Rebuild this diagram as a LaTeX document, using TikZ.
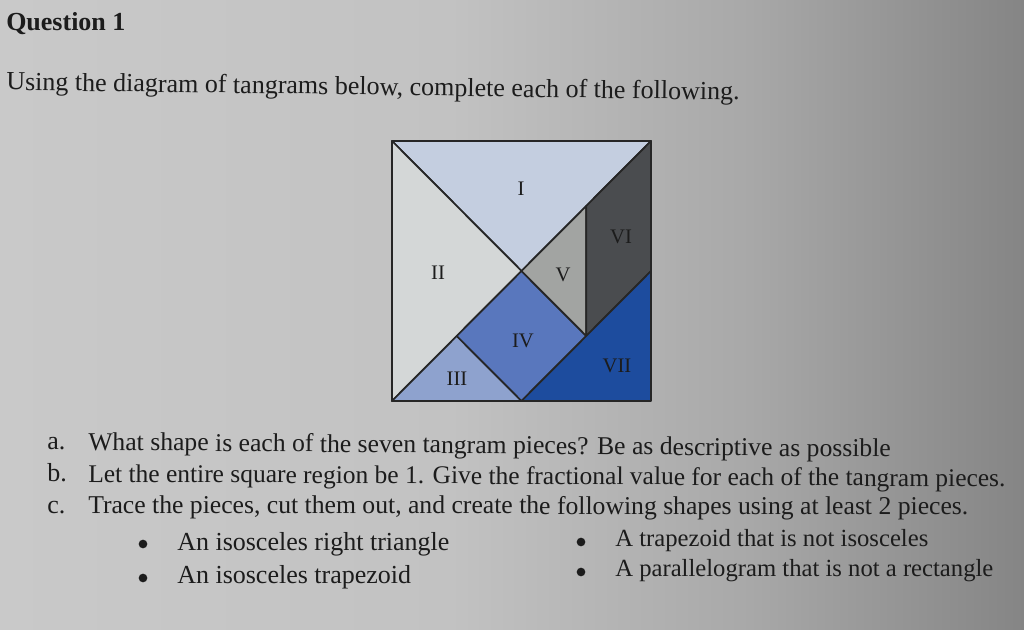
\documentclass[tikz,border=0pt]{standalone}
\usepackage{fontspec}
\setmainfont{Liberation Serif}
\definecolor{ink}{HTML}{1C1C1C}
\definecolor{bgA}{HTML}{C9C9C9}
\definecolor{bgB}{HTML}{C2C2C2}
\definecolor{bgC}{HTML}{A8A8A8}
\definecolor{bgD}{HTML}{858585}
\definecolor{cI}{HTML}{C4CEE0}
\definecolor{cII}{HTML}{D4D7D7}
\definecolor{cIII}{HTML}{8EA2CE}
\definecolor{cIV}{HTML}{5977BD}
\definecolor{cV}{HTML}{A2A4A2}
\definecolor{cVI}{HTML}{4A4C4F}
\definecolor{cVII}{HTML}{1D4C9E}
\definecolor{edge}{HTML}{262626}
\begin{document}
\begin{tikzpicture}[x=0.75pt,y=-0.75pt,
  txt/.style={anchor=base west, inner sep=0pt, text=ink, font=\fontsize{19.5pt}{22pt}\selectfont},
  ttl/.style={anchor=base west, inner sep=0pt, text=ink, font=\fontsize{19.5pt}{22pt}\selectfont\bfseries},
  lab/.style={inner sep=0pt, text=ink, font=\fontsize{15.5pt}{17pt}\selectfont},
  bul/.style={circle, fill=ink, minimum size=6.5pt, inner sep=0pt},
  piece/.style={draw=edge, line width=1.3pt, line join=round}]
\useasboundingbox (0,0) rectangle (1024,630);
% background
\shade[left color=bgA, right color=bgB] (0,0) rectangle (451,630);
\shade[left color=bgB, right color=bgC] (450,0) rectangle (751,630);
\shade[left color=bgC, right color=bgD] (750,0) rectangle (1024,630);
% grid of tangram points
\foreach \i in {0,...,4}{
  \foreach \j in {0,...,4}{
    \coordinate (g\i\j) at ({392+64.75*\i},{141+65*\j});
  }
}
% pieces
\filldraw[piece, fill=cI]   (g00) -- (g40) -- (g22) -- cycle;
\filldraw[piece, fill=cII]  (g00) -- (g22) -- (g04) -- cycle;
\filldraw[piece, fill=cIII] (g04) -- (g13) -- (g24) -- cycle;
\filldraw[piece, fill=cIV]  (g22) -- (g33) -- (g24) -- (g13) -- cycle;
\filldraw[piece, fill=cV]   (g22) -- (g31) -- (g33) -- cycle;
\filldraw[piece, fill=cVI]  (g31) -- (g40) -- (g42) -- (g33) -- cycle;
\filldraw[piece, fill=cVII] (g42) -- (g44) -- (g24) -- cycle;
% labels
\node[lab] (lI)   at (521,189) {I};
\node[lab] (lII)  at (438,273) {II};
\node[lab] (lIII) at (457,379) {III};
\node[lab] (lIV)  at (523,341) {IV};
\node[lab] (lV)   at (563,275) {V};
\node[lab] (lVI)  at (621,237) {VI};
\node[lab] (lVII) at (617,366) {VII};
% text
\node[ttl] (q1) at (6,31) {Question 1};
\node[txt, rotate=-0.78] (intro) at (6,90) {Using the diagram of tangrams below, complete each of the following.};
\node[txt] (la) at (47,450) {a.};
\node[txt, rotate=-0.5, font=\fontsize{19.25pt}{22pt}\selectfont] (ta) at (88,450) {What shape is each of the seven tangram pieces? Be as descriptive as possible};
\node[txt] (lb) at (47,482) {b.};
\node[txt, rotate=-0.3, font=\fontsize{19.1pt}{22pt}\selectfont] (tb) at (88,482) {Let the entire square region be 1. Give the fractional value for each of the tangram pieces.};
\node[txt] (lc) at (47,513) {c.};
\node[txt, rotate=-0.13, font=\fontsize{19.25pt}{22pt}\selectfont] (tc) at (88,513) {Trace the pieces, cut them out, and create the following shapes using at least 2 pieces.};
\node[bul] (b1) at (143,544) {};
\node[txt] (t1) at (177,550) {An isosceles right triangle};
\node[bul] (b2) at (143,578) {};
\node[txt] (t2) at (177,583) {An isosceles trapezoid};
\node[bul] (b3) at (581,542) {};
\node[txt, font=\fontsize{18.5pt}{22pt}\selectfont] (t3) at (615,546) {A trapezoid that is not isosceles};
\node[bul] (b4) at (581,572) {};
\node[txt, font=\fontsize{18.5pt}{22pt}\selectfont] (t4) at (615,576) {A parallelogram that is not a rectangle};
\end{tikzpicture}
\end{document}
